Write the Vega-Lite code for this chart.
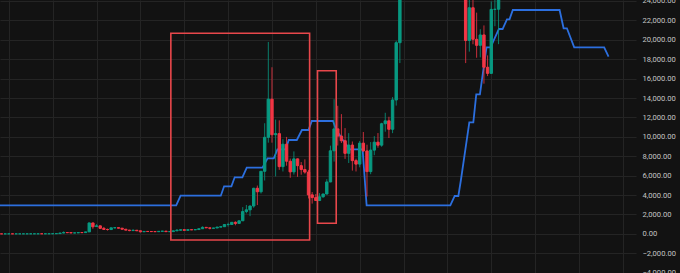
{
  "$schema": "https://vega.github.io/schema/vega-lite/v6.json",
  "width": 636,
  "height": 273,
  "padding": {"left": 0, "top": 0, "right": 44, "bottom": 0},
  "autosize": {"type": "none"},
  "background": "#121212",
  "config": {
    "view": {"stroke": null},
    "axis": {"domain": false, "ticks": false, "gridColor": "#242424", "gridWidth": 1, "labelColor": "#c4c4c4", "labelFont": "Roboto", "labelFontSize": 7.6}
  },
  "datasets": {
    "candles": [
      {"date":"2011-11","m":22,"o":3.2,"h":3.8,"l":2.0,"c":3.0},
      {"date":"2011-12","m":23,"o":3.0,"h":4.2,"l":2.2,"c":4.25},
      {"date":"2012-01","m":24,"o":4.7,"h":7.2,"l":4.2,"c":5.5},
      {"date":"2012-02","m":25,"o":5.5,"h":6.3,"l":4.2,"c":4.9},
      {"date":"2012-03","m":26,"o":4.9,"h":5.4,"l":4.7,"c":4.9},
      {"date":"2012-04","m":27,"o":4.9,"h":5.3,"l":4.8,"c":5.0},
      {"date":"2012-05","m":28,"o":5.0,"h":5.2,"l":4.9,"c":5.1},
      {"date":"2012-06","m":29,"o":5.1,"h":6.9,"l":5.1,"c":6.7},
      {"date":"2012-07","m":30,"o":6.7,"h":9.3,"l":6.6,"c":9.3},
      {"date":"2012-08","m":31,"o":9.3,"h":15.4,"l":7.1,"c":10.1},
      {"date":"2012-09","m":32,"o":10.1,"h":12.8,"l":9.9,"c":12.4},
      {"date":"2012-10","m":33,"o":12.4,"h":12.7,"l":9.8,"c":11.2},
      {"date":"2012-11","m":34,"o":11.2,"h":12.7,"l":10.1,"c":12.6},
      {"date":"2012-12","m":35,"o":12.6,"h":14.0,"l":12.3,"c":13.5},
      {"date":"2013-01","m":36,"o":13.5,"h":21.0,"l":13.2,"c":20.4},
      {"date":"2013-02","m":37,"o":20.4,"h":33.6,"l":19.4,"c":33.4},
      {"date":"2013-03","m":38,"o":33.4,"h":95,"l":33,"c":93},
      {"date":"2013-04","m":39,"o":93,"h":266,"l":50,"c":139},
      {"date":"2013-05","m":40,"o":139,"h":139,"l":79,"c":128},
      {"date":"2013-06","m":41,"o":128,"h":129,"l":89,"c":97},
      {"date":"2013-07","m":42,"o":97,"h":111,"l":65,"c":106},
      {"date":"2013-08","m":43,"o":106,"h":138,"l":101,"c":135},
      {"date":"2013-09","m":44,"o":135,"h":142,"l":117,"c":133},
      {"date":"2013-10","m":45,"o":133,"h":215,"l":101,"c":206},
      {"date":"2013-11","m":46,"o":206,"h":1163,"l":195,"c":1128},
      {"date":"2013-12","m":47,"o":1128,"h":1157,"l":520,"c":732},
      {"date":"2014-01","m":48,"o":755,"h":995,"l":748,"c":830},
      {"date":"2014-02","m":49,"o":830,"h":860,"l":500,"c":573},
      {"date":"2014-03","m":50,"o":573,"h":718,"l":441,"c":457},
      {"date":"2014-04","m":51,"o":457,"h":545,"l":340,"c":447},
      {"date":"2014-05","m":52,"o":447,"h":630,"l":420,"c":627},
      {"date":"2014-06","m":53,"o":627,"h":675,"l":550,"c":640},
      {"date":"2014-07","m":54,"o":640,"h":650,"l":565,"c":587},
      {"date":"2014-08","m":55,"o":587,"h":601,"l":450,"c":480},
      {"date":"2014-09","m":56,"o":480,"h":490,"l":365,"c":389},
      {"date":"2014-10","m":57,"o":389,"h":415,"l":275,"c":338},
      {"date":"2014-11","m":58,"o":338,"h":458,"l":323,"c":376},
      {"date":"2014-12","m":59,"o":376,"h":383,"l":304,"c":320},
      {"date":"2015-01","m":60,"o":320,"h":320,"l":152,"c":217},
      {"date":"2015-02","m":61,"o":217,"h":265,"l":210,"c":254},
      {"date":"2015-03","m":62,"o":254,"h":300,"l":240,"c":244},
      {"date":"2015-04","m":63,"o":244,"h":261,"l":215,"c":236},
      {"date":"2015-05","m":64,"o":236,"h":248,"l":226,"c":230},
      {"date":"2015-06","m":65,"o":230,"h":268,"l":220,"c":263},
      {"date":"2015-07","m":66,"o":263,"h":315,"l":253,"c":284},
      {"date":"2015-08","m":67,"o":284,"h":285,"l":198,"c":230},
      {"date":"2015-09","m":68,"o":230,"h":244,"l":225,"c":236},
      {"date":"2015-10","m":69,"o":236,"h":334,"l":236,"c":314},
      {"date":"2015-11","m":70,"o":314,"h":502,"l":300,"c":377},
      {"date":"2015-12","m":71,"o":377,"h":468,"l":350,"c":430},
      {"date":"2016-01","m":72,"o":430,"h":463,"l":355,"c":368},
      {"date":"2016-02","m":73,"o":368,"h":448,"l":366,"c":437},
      {"date":"2016-03","m":74,"o":437,"h":439,"l":390,"c":416},
      {"date":"2016-04","m":75,"o":416,"h":467,"l":414,"c":448},
      {"date":"2016-05","m":76,"o":448,"h":550,"l":435,"c":531},
      {"date":"2016-06","m":77,"o":531,"h":780,"l":521,"c":673},
      {"date":"2016-07","m":78,"o":673,"h":704,"l":606,"c":623},
      {"date":"2016-08","m":79,"o":623,"h":628,"l":465,"c":575},
      {"date":"2016-09","m":80,"o":575,"h":614,"l":570,"c":608},
      {"date":"2016-10","m":81,"o":608,"h":720,"l":604,"c":700},
      {"date":"2016-11","m":82,"o":700,"h":753,"l":682,"c":742},
      {"date":"2016-12","m":83,"o":742,"h":976,"l":742,"c":963},
      {"date":"2017-01","m":84,"o":963,"h":1154,"l":752,"c":965},
      {"date":"2017-02","m":85,"o":965,"h":1200,"l":934,"c":1190},
      {"date":"2017-03","m":86,"o":1190,"h":1290,"l":887,"c":1080},
      {"date":"2017-04","m":87,"o":1080,"h":1350,"l":1060,"c":1350},
      {"date":"2017-05","m":88,"o":1350,"h":2760,"l":1350,"c":2300},
      {"date":"2017-06","m":89,"o":2300,"h":2980,"l":2120,"c":2480},
      {"date":"2017-07","m":90,"o":2480,"h":2920,"l":1830,"c":2875},
      {"date":"2017-08","m":91,"o":2875,"h":4750,"l":2690,"c":4700},
      {"date":"2017-09","m":92,"o":4700,"h":4980,"l":2970,"c":4340},
      {"date":"2017-10","m":93,"o":4340,"h":6470,"l":4160,"c":6450},
      {"date":"2017-11","m":94,"o":6450,"h":11400,"l":5500,"c":9950},
      {"date":"2017-12","m":95,"o":9950,"h":19780,"l":9400,"c":13880},
      {"date":"2018-01","m":96,"o":13880,"h":17170,"l":9400,"c":10220},
      {"date":"2018-02","m":97,"o":10220,"h":11780,"l":5920,"c":10330},
      {"date":"2018-03","m":98,"o":10330,"h":11700,"l":6600,"c":6930},
      {"date":"2018-04","m":99,"o":6930,"h":9760,"l":6430,"c":9240},
      {"date":"2018-05","m":100,"o":9240,"h":9990,"l":7030,"c":7490},
      {"date":"2018-06","m":101,"o":7490,"h":7760,"l":5780,"c":6390},
      {"date":"2018-07","m":102,"o":6390,"h":8500,"l":6110,"c":7730},
      {"date":"2018-08","m":103,"o":7730,"h":7760,"l":5880,"c":7030},
      {"date":"2018-09","m":104,"o":7030,"h":7400,"l":6100,"c":6630},
      {"date":"2018-10","m":105,"o":6630,"h":7680,"l":6200,"c":6370},
      {"date":"2018-11","m":106,"o":6370,"h":6590,"l":3650,"c":4020},
      {"date":"2018-12","m":107,"o":4020,"h":4310,"l":3120,"c":3740},
      {"date":"2019-01","m":108,"o":3740,"h":4110,"l":3400,"c":3440},
      {"date":"2019-02","m":109,"o":3440,"h":4200,"l":3380,"c":3820},
      {"date":"2019-03","m":110,"o":3820,"h":4140,"l":3730,"c":4110},
      {"date":"2019-04","m":111,"o":4110,"h":5640,"l":4080,"c":5350},
      {"date":"2019-05","m":112,"o":5350,"h":9090,"l":5330,"c":8560},
      {"date":"2019-06","m":113,"o":8560,"h":13880,"l":7450,"c":10820},
      {"date":"2019-07","m":114,"o":10820,"h":13200,"l":9100,"c":10080},
      {"date":"2019-08","m":115,"o":10080,"h":12340,"l":9360,"c":9600},
      {"date":"2019-09","m":116,"o":9600,"h":10900,"l":7730,"c":8300},
      {"date":"2019-10","m":117,"o":8300,"h":10380,"l":7300,"c":9150},
      {"date":"2019-11","m":118,"o":9150,"h":9520,"l":6520,"c":7550},
      {"date":"2019-12","m":119,"o":7550,"h":7750,"l":6430,"c":7190},
      {"date":"2020-01","m":120,"o":7190,"h":9580,"l":6860,"c":9350},
      {"date":"2020-02","m":121,"o":9350,"h":10500,"l":8450,"c":8550},
      {"date":"2020-03","m":122,"o":8550,"h":9190,"l":3850,"c":6420},
      {"date":"2020-04","m":123,"o":6420,"h":9460,"l":6150,"c":8630},
      {"date":"2020-05","m":124,"o":8630,"h":10070,"l":8110,"c":9450},
      {"date":"2020-06","m":125,"o":9450,"h":10390,"l":8880,"c":9140},
      {"date":"2020-07","m":126,"o":9140,"h":11450,"l":8980,"c":11350},
      {"date":"2020-08","m":127,"o":11350,"h":12480,"l":10530,"c":11650},
      {"date":"2020-09","m":128,"o":11650,"h":12070,"l":9880,"c":10780},
      {"date":"2020-10","m":129,"o":10780,"h":14100,"l":10380,"c":13800},
      {"date":"2020-11","m":130,"o":13800,"h":19900,"l":13220,"c":19700},
      {"date":"2020-12","m":131,"o":19700,"h":29300,"l":17600,"c":28990},
      {"date":"2021-01","m":132,"o":28990,"h":41950,"l":28130,"c":33110},
      {"date":"2021-02","m":133,"o":33110,"h":58350,"l":32300,"c":45140},
      {"date":"2021-03","m":134,"o":45140,"h":61790,"l":45000,"c":58740},
      {"date":"2021-04","m":135,"o":58740,"h":64850,"l":47000,"c":57720},
      {"date":"2021-05","m":136,"o":57720,"h":59600,"l":30000,"c":37300},
      {"date":"2021-06","m":137,"o":37300,"h":41300,"l":28800,"c":35040},
      {"date":"2021-07","m":138,"o":35040,"h":42300,"l":29300,"c":41460},
      {"date":"2021-08","m":139,"o":41460,"h":50500,"l":37330,"c":47130},
      {"date":"2021-09","m":140,"o":47130,"h":52900,"l":39600,"c":43820},
      {"date":"2021-10","m":141,"o":43820,"h":67000,"l":43300,"c":61300},
      {"date":"2021-11","m":142,"o":61300,"h":69000,"l":53250,"c":57000},
      {"date":"2021-12","m":143,"o":57000,"h":59050,"l":42000,"c":46200},
      {"date":"2022-01","m":144,"o":46200,"h":47990,"l":32950,"c":38480},
      {"date":"2022-02","m":145,"o":38480,"h":45800,"l":34320,"c":43180},
      {"date":"2022-03","m":146,"o":43180,"h":48190,"l":37160,"c":45510},
      {"date":"2022-04","m":147,"o":45510,"h":47450,"l":37700,"c":37700},
      {"date":"2022-05","m":148,"o":37700,"h":40000,"l":26700,"c":31800},
      {"date":"2022-06","m":149,"o":31800,"h":31960,"l":17600,"c":19930},
      {"date":"2022-07","m":150,"o":19930,"h":24670,"l":18780,"c":23300},
      {"date":"2022-08","m":151,"o":23300,"h":25200,"l":19540,"c":20050},
      {"date":"2022-09","m":152,"o":20050,"h":22800,"l":18150,"c":19430},
      {"date":"2022-10","m":153,"o":19430,"h":21090,"l":18190,"c":20500},
      {"date":"2022-11","m":154,"o":20500,"h":21480,"l":15480,"c":17170},
      {"date":"2022-12","m":155,"o":17170,"h":18390,"l":16260,"c":16540},
      {"date":"2023-01","m":156,"o":16540,"h":23960,"l":16500,"c":23130},
      {"date":"2023-02","m":157,"o":23130,"h":25250,"l":21400,"c":23150},
      {"date":"2023-03","m":158,"o":23150,"h":29200,"l":19550,"c":28470}
    ],
    "line": [
      {"m":20,"v":2930},{"m":69.8,"v":2930},{"m":71.0,"v":3935},{"m":82.0,"v":3935},
      {"m":82.9,"v":4904},{"m":84.9,"v":4904},{"m":85.8,"v":5831},{"m":87.9,"v":5831},
      {"m":89.1,"v":6820},{"m":93.4,"v":6820},{"m":94.8,"v":7789},{"m":96.5,"v":7789},
      {"m":97.5,"v":8716},{"m":99.7,"v":8716},{"m":100.6,"v":9674},{"m":102.8,"v":9674},
      {"m":104.2,"v":10705},{"m":106.0,"v":10705},{"m":106.9,"v":11632},{"m":112.7,"v":11632},
      {"m":113.6,"v":10705},{"m":115.4,"v":9674},{"m":117.2,"v":8716},{"m":120.8,"v":8716},
      {"m":121.9,"v":2930},{"m":144.8,"v":2930},{"m":146.0,"v":3905},{"m":147.0,"v":3905},
      {"m":147.7,"v":5553},{"m":150.0,"v":11498},{"m":151.1,"v":11498},{"m":151.9,"v":14383},
      {"m":152.9,"v":14383},{"m":154.7,"v":19226},{"m":155.8,"v":19226},{"m":158.1,"v":21112},
      {"m":159.1,"v":21112},{"m":160.3,"v":22111},{"m":161.0,"v":22111},{"m":161.9,"v":23070},
      {"m":174.7,"v":23070},{"m":175.8,"v":21184},{"m":176.7,"v":21184},{"m":178.7,"v":19226},
      {"m":186.9,"v":19226},{"m":188.1,"v":18260}
    ],
    "boxes": [
      {"m":68.33,"m2":106.3,"v":20669,"v2":-630},
      {"m":108.46,"m2":113.58,"v":16815,"v2":1091}
    ]
  },
  "layer": [
    {
      "data": {"name": "line"},
      "mark": {"type": "line", "color": "#2c6fdf", "strokeWidth": 1.8, "clip": true},
      "encoding": {
        "x": {"field": "m", "type": "quantitative", "title": null,
              "scale": {"domain": [22.95, 194.24], "nice": false, "zero": false},
              "axis": {"orient": "bottom", "values": [24,36,48,60,72,84,96,108,120,132,144,156,168,180,192], "tickCount": 40, "labels": false, "grid": true, "title": null}},
        "y": {"field": "v", "type": "quantitative", "title": null,
              "scale": {"domain": [-4030, 24100], "nice": false, "zero": false},
              "axis": {"orient": "right", "values": [-4000,-2000,0,2000,4000,6000,8000,10000,12000,14000,16000,18000,20000,22000,24000], "tickCount": 40, "format": ",.2f", "labelPadding": 6, "labelOverlap": false, "grid": true, "title": null, "labelAlign": "left", "labelBaseline": "middle"}}
      }
    },
    {
      "data": {"name": "candles"},
      "mark": {"type": "rule", "clip": true, "strokeWidth": 1, "opacity": 0.8},
      "encoding": {
        "x": {"field": "m", "type": "quantitative", "title": null},
        "y": {"field": "l", "type": "quantitative", "title": null},
        "y2": {"field": "h"},
        "color": {"condition": {"test": "datum.c >= datum.o", "value": "#089981"}, "value": "#f23645"}
      }
    },
    {
      "data": {"name": "candles"},
      "mark": {"type": "bar", "clip": true, "width": 2.4, "strokeWidth": 1},
      "encoding": {
        "x": {"field": "m", "type": "quantitative", "title": null},
        "y": {"field": "o", "type": "quantitative", "title": null},
        "y2": {"field": "c"},
        "color": {"condition": {"test": "datum.c >= datum.o", "value": "#089981"}, "value": "#f23645"},
        "stroke": {"condition": {"test": "datum.c >= datum.o", "value": "#089981"}, "value": "#f23645"}
      }
    },
    {
      "data": {"name": "boxes"},
      "mark": {"type": "rect", "clip": true, "fillOpacity": 0, "fill": "#000000", "stroke": "#e8474b", "strokeWidth": 1.6},
      "encoding": {
        "x": {"field": "m", "type": "quantitative", "title": null},
        "x2": {"field": "m2"},
        "y": {"field": "v", "type": "quantitative", "title": null},
        "y2": {"field": "v2"}
      }
    }
  ]
}
